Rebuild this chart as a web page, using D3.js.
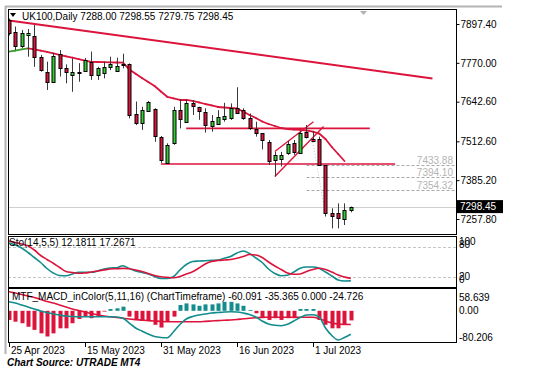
<!DOCTYPE html>
<html>
<head>
<meta charset="utf-8">
<script src="https://cdn.jsdelivr.net/npm/d3@7"></script>
<style>
  body { margin: 0; background: #fff; }
  svg text { font-family: "Liberation Sans", Arial, sans-serif; font-size: 10px; }
</style>
</head>
<body>
<svg id="drawing_region"></svg>
<script>
// ---- data (UK100 daily) ----
const opens  = [7910,7872,7826,7859,7859,7790,7741,7708,7798,7752,7730,7739,7743,7774,7730,7736,7755,7746,7762,7766,
                7602,7574,7615,7618,7526,7442,7506,7615,7577,7639,7624,7608,7561,7569,7585,7588,7621,7615,7588,7552,
                7539,7511,7451,7455,7473,7506,7475,7544,7520,7519,7435,7277,7277,7260,7288.00];
const highs  = [7915,7889,7878,7881,7894,7796,7774,7802,7812,7765,7785,7769,7786,7807,7757,7774,7790,7787,7800,7768,
                7643,7626,7645,7621,7530,7506,7626,7650,7650,7648,7626,7621,7599,7615,7639,7637,7690,7621,7604,7577,
                7539,7517,7478,7478,7514,7517,7547,7566,7546,7528,7435,7293,7309,7309,7298.55];
const lows   = [7860,7812,7819,7790,7757,7741,7681,7706,7725,7703,7675,7708,7740,7714,7714,7719,7746,7741,7752,7588,
                7566,7550,7613,7511,7442,7440,7501,7555,7574,7599,7583,7541,7544,7566,7577,7583,7604,7583,7550,7528,
                7486,7435,7397,7430,7468,7468,7473,7522,7510,7435,7266,7227,7227,7238,7279.75];
const closes = [7867,7826,7867,7867,7790,7746,7708,7793,7752,7739,7739,7740,7779,7730,7754,7757,7765,7761,7766,7599,
                7574,7615,7643,7528,7451,7501,7615,7585,7639,7628,7610,7566,7579,7591,7596,7621,7606,7588,7555,7539,
                7515,7449,7468,7468,7503,7475,7539,7528,7515,7435,7277,7266,7260,7288,7298.45];

const maValues = [7806.5,7810.2,7814.1,7817.7,7813.8,7809.8,7805.6,7801.3,7796.4,7791.5,7786.9,7782.3,7777.4,7773.4,7772.8,
                  7772.1,7771.4,7771.1,7770.5,7748.2,7734.4,7720.3,7707.2,7694.1,7676.0,7658.6,7653.1,7648.2,7648.2,7644.9,
                  7640.0,7635.0,7630.1,7625.2,7623.5,7621.9,7620.2,7610.4,7598.9,7589.1,7577.6,7569.4,7562.8,7556.3,7552.3,
                  7551.4,7550.0,7548.1,7544.1,7538.2,7520.2,7493.9,7471.0,7448.0];

const stochMain   = [88,84,78,69,59,49,37,28,23,22.6,26,29.4,29.4,29.4,32,36,38,38.6,42.6,37,32,29,26,21,17,17,21,34,45,51,
                     52,52.6,53.4,54,57.4,61,68,72,67,58,49,36,27,22.6,23.4,30,37.4,40,40,37.4,30,22,14,12,12.1811];
const stochSignal = [92,89,86,82.6,74,63,55,47.4,39,31,29,27.4,28,30,32,34,36,36.6,37.2,36.4,34,31,27,23,20.4,19.4,18.6,21,26,30.6,
                     38,46,51,53,54,55,57.4,61,65,64,59,50,42,35,28,25.6,26,31,35,37.4,35,30,24,20,17.2671];

const macdMain   = [23.4,20,15,9.8,4.6,-0.5,-4.4,-8.3,-10.9,-13.4,-14.7,-15.3,-15.3,-15.3,-15.3,-15.3,-15.3,-16,-19.3,-31.4,
                    -44.2,-52,-59.7,-66.1,-68.6,-69.2,-53.7,-35.2,-21.1,-14.7,-10.8,-8.2,-5.7,-4.4,-3.1,-2.3,-3.1,-5.7,-9.5,-16,
                    -26.3,-34,-37.3,-38.3,-34.8,-26.3,-17.2,-10.8,-10,-16,-44.2,-63.5,-75,-68.6,-60.091];
const macdSignal = [49.1,45.8,41.9,38.1,34.2,29.1,23.9,20.1,14.9,9.8,4.6,0.8,-3.1,-6.9,-10.8,-13.4,-15.2,-17.2,-19.3,-21.1,
                    -22.6,-23.9,-25.2,-26.2,-27.2,-28,-28,-28,-28,-28,-28,-27.2,-26.2,-25.2,-24.2,-23.6,-22.4,-20.6,-19.3,-18,
                    -16.7,-16.7,-16.7,-16.7,-16.7,-16.7,-16.7,-16.7,-16.7,-20,-26,-31,-34,-35,-35.365];
const macdHist   = [-23.5,-28,-32,-41,-49,-58,-66,-58,-45,-45,-32,-21,-15,-19,-12.6,-2,4.6,6.4,10.6,-15,
                    -23.5,-26,-26,-36,-43,-28,-15,14.9,19,16.5,12.9,16.5,16.5,19,23,23,19,12.9,2,-6.4,
                    -19,-23.5,-19,-23.5,-19,-19,4.6,4.6,4.6,-23.5,-36,-45,-45,-36,-24.726];

const priceTicks = [7257.80, 7385.20, 7512.60, 7642.60, 7770.00, 7897.40];
const fiboLevels = [7433.88, 7394.10, 7354.32];
const dateBars   = [0, 12, 24, 36, 48];
const dateTexts  = ["25 Apr 2023", "15 May 2023", "31 May 2023", "16 Jun 2023", "1 Jul 2023"];

// drawn objects: [bar1, price1, bar2, price2]
const trendLine      = [0, 7909, 66.9, 7719];
const resistanceLine = [28, 7555, 57, 7555];
const supportLine    = [24, 7438, 61, 7438];
const wedgeLower     = [42, 7397, 49.7, 7561];
const wedgeUpper     = [42, 7479, 48.1, 7577];

const lastPrice = 7298.45;

// ---- layout ----
const W = 536, H = 377;
const left = 8, right = 456;
const mainTop = 9.5, mainBottom = 234.5;
const stoTop = 236.5, stoBottom = 287.5;
const macdTop = 288.5, macdBottom = 342.5;
const red = "#dc143c", teal = "#128c8c", green = "#32cd32";

const svg = d3.select("#drawing_region").attr("width", W).attr("height", H);

const n = closes.length;
const xscale = d3.scaleLinear().domain([0, 54]).range([9, 350.8]);
const yscale = d3.scaleLinear().domain([7257.8, 7897.4]).range([219, 24]);
const sscale = d3.scaleLinear().domain([0, 100]).range([287, 237]);
const mscale = d3.scaleLinear().domain([-80.206, 58.639]).range([342, 288]);

const px = i => Math.round(xscale(i));

// clip regions
const defs = svg.append("defs");
[["clipMain", mainTop, mainBottom], ["clipSto", stoTop, stoBottom], ["clipMacd", macdTop, macdBottom]].forEach(c => {
  defs.append("clipPath").attr("id", c[0]).append("rect")
    .attr("x", left).attr("y", c[1]).attr("width", right - left).attr("height", c[2] - c[1]);
});

// window frame
svg.append("line").attr("x1", 5).attr("x2", 502).attr("y1", 6.5).attr("y2", 6.5).attr("stroke", "#b4b4b4").attr("stroke-width", 2);
svg.append("line").attr("x1", 5.5).attr("x2", 5.5).attr("y1", 6).attr("y2", 354).attr("stroke", "#b4b4b4").attr("stroke-width", 2);

// ---------- main panel ----------
const main = svg.append("g").attr("clip-path", "url(#clipMain)");

// current price line
main.append("line")
  .attr("x1", left).attr("x2", right)
  .attr("y1", Math.round(yscale(lastPrice)) + 0.5).attr("y2", Math.round(yscale(lastPrice)) + 0.5)
  .attr("stroke", "#cfcfcf");

// fibo levels
fiboLevels.forEach(v => {
  const yy = Math.round(yscale(v)) + 0.5;
  main.append("line").attr("x1", xscale(47)).attr("x2", right).attr("y1", yy).attr("y2", yy)
    .attr("stroke", "#a8a8a8").attr("stroke-dasharray", "3,2");
  main.append("text").attr("x", 453).attr("y", yy - 1.5).attr("text-anchor", "end")
    .attr("fill", "#b4b4b4").text(v.toFixed(2));
});
main.append("line").attr("x1", xscale(47.9)).attr("y1", yscale(7520)).attr("x2", xscale(49.8)).attr("y2", yscale(7296))
  .attr("stroke", "#c4c4c4").attr("stroke-dasharray", "1,2");

const seg = (g, l, w) => g.append("line")
  .attr("x1", xscale(l[0])).attr("y1", yscale(l[1])).attr("x2", xscale(l[2])).attr("y2", yscale(l[3]))
  .attr("stroke", red).attr("stroke-width", w);

seg(main, trendLine, 2);
seg(main, resistanceLine, 1.6);
seg(main, supportLine, 1.6);
seg(main, wedgeLower, 1.4);
seg(main, wedgeUpper, 1.4);

// moving average, green while rising
for (let i = 1; i < maValues.length; i++) {
  main.append("line")
    .attr("x1", xscale(i - 1)).attr("y1", yscale(maValues[i - 1]))
    .attr("x2", xscale(i)).attr("y2", yscale(maValues[i]))
    .attr("stroke", maValues[i] > maValues[i - 1] ? "#3a9a2a" : red)
    .attr("stroke-width", 1.8).attr("stroke-linecap", "round");
}

// candles
const bars = d3.range(n);
main.selectAll(".wick").data(bars).join("line")
  .attr("x1", i => px(i) + 0.5).attr("x2", i => px(i) + 0.5)
  .attr("y1", i => yscale(highs[i])).attr("y2", i => yscale(lows[i]))
  .attr("stroke", "#3a3a3a");
main.selectAll(".body").data(bars).join("rect")
  .attr("x", i => px(i) - 1).attr("width", 3)
  .attr("y", i => Math.round(yscale(Math.max(opens[i], closes[i]))) + 0.5)
  .attr("height", i => Math.max(1, Math.round(Math.abs(yscale(opens[i]) - yscale(closes[i])))))
  .attr("fill", i => closes[i] >= opens[i] ? green : red)
  .attr("stroke", "#000").attr("stroke-width", 1);

// ---------- stochastic ----------
const sto = svg.append("g").attr("clip-path", "url(#clipSto)");
[80, 20].forEach(v => {
  sto.append("line").attr("x1", left).attr("x2", right)
    .attr("y1", Math.round(sscale(v)) + 0.5).attr("y2", Math.round(sscale(v)) + 0.5)
    .attr("stroke", "#c4c4c4").attr("stroke-dasharray", "3,2");
});
const sline = d3.line().x((d, i) => xscale(i)).y(d => sscale(d)).curve(d3.curveMonotoneX);
sto.append("path").datum(stochMain).attr("d", sline).attr("fill", "none").attr("stroke", teal).attr("stroke-width", 1.6);
sto.append("path").datum(stochSignal).attr("d", sline).attr("fill", "none").attr("stroke", red).attr("stroke-width", 1.6);

// ---------- MACD ----------
const macd = svg.append("g").attr("clip-path", "url(#clipMacd)");
const zeroY = mscale(0);
macd.selectAll("rect").data(bars).join("rect")
  .attr("x", i => px(i) - 1.5).attr("width", 4)
  .attr("y", i => Math.min(zeroY, mscale(macdHist[i])))
  .attr("height", i => Math.abs(mscale(macdHist[i]) - zeroY))
  .attr("fill", i => macdHist[i] >= 0 ? teal : red);
const mline = d3.line().x((d, i) => xscale(i)).y(d => mscale(d)).curve(d3.curveMonotoneX);
macd.append("path").datum(macdSignal).attr("d", mline).attr("fill", "none").attr("stroke", red).attr("stroke-width", 1.6);
macd.append("path").datum(macdMain).attr("d", mline).attr("fill", "none").attr("stroke", teal).attr("stroke-width", 1.6);

// ---------- frames ----------
[[mainTop, mainBottom], [stoTop, stoBottom], [macdTop, macdBottom]].forEach(p => {
  svg.append("rect").attr("x", left + 0.5).attr("y", p[0]).attr("width", right - left).attr("height", p[1] - p[0])
    .attr("fill", "none").attr("stroke", "#000");
});

// ---------- axes ----------
const yaxis = d3.axisRight(yscale).tickValues(priceTicks).tickSize(3).tickFormat(d3.format(".2f"));
svg.append("g").attr("transform", `translate(${right + 0.5},0)`).call(yaxis)
  .call(g => g.select(".domain").remove())
  .call(g => g.selectAll("text").attr("x", 4).attr("font-size", 10).attr("font-family", null));

// current price box
const ly = yscale(lastPrice);
svg.append("rect").attr("x", right + 1).attr("y", ly - 6.5).attr("width", 46).attr("height", 13).attr("fill", "#000");
svg.append("text").attr("x", right + 4).attr("y", ly + 3.5).attr("fill", "#fff").text(lastPrice.toFixed(2));

// stochastic scale labels
[["100", 245], ["80", 248], ["20", 280], ["0", 283]].forEach(t => {
  svg.append("text").attr("x", right + 3).attr("y", t[1]).text(t[0]);
});
// macd scale labels
[["58.639", 58.639], ["0.00", 0], ["-80.206", -80.206]].forEach(t => {
  const yy = Math.min(Math.max(mscale(t[1]), 297), 337);
  svg.append("text").attr("x", right + 3).attr("y", yy + 3.5).text(t[0]);
});

// date axis
dateBars.forEach((b, k) => {
  svg.append("line").attr("x1", px(b) + 0.5).attr("x2", px(b) + 0.5).attr("y1", macdBottom).attr("y2", 347).attr("stroke", "#000");
  svg.append("text").attr("x", px(b) + 2).attr("y", 353.5).text(dateTexts[k]);
});

// ---------- labels ----------
svg.append("path").attr("d", "M10,13 L16,13 L13,17 Z").attr("fill", "#000");
svg.append("text").attr("x", 22).attr("y", 20).attr("fill", "#000")
  .text("UK100,Daily 7288.00 7298.55 7279.75 7298.45");
svg.append("path").attr("d", "M360,11 L367,11 L363.5,15 Z").attr("fill", "#b0b0b0");

svg.append("text").attr("x", 9).attr("y", 246).text("Sto(14,5,5) 12.1811 17.2671");
svg.append("text").attr("x", 12).attr("y", 300)
  .text("MTF_MACD_inColor(5,11,16) (ChartTimeframe) -60.091 -35.365 0.000 -24.726");

svg.append("text").attr("x", 7).attr("y", 366)
  .attr("font-weight", "bold").attr("font-style", "italic")
  .text("Chart Source: UTRADE MT4");
</script>
</body>
</html>
